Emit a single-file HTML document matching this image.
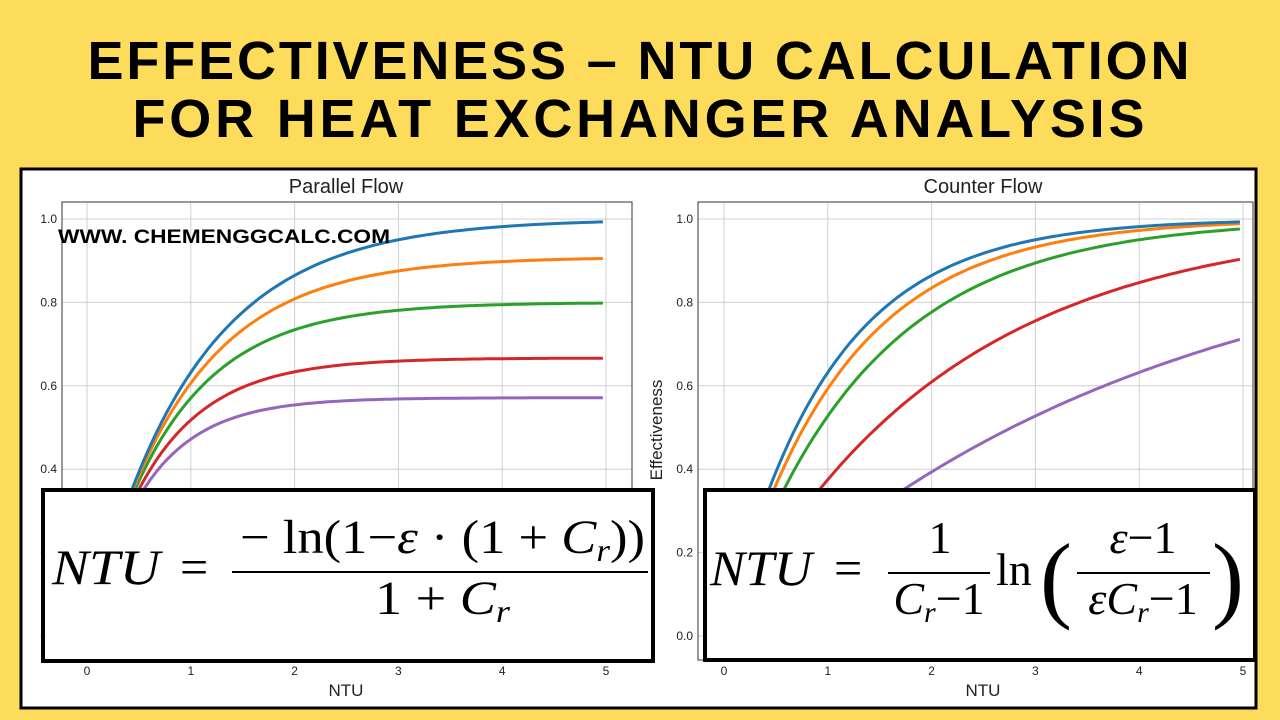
<!DOCTYPE html>
<html><head><meta charset="utf-8"><style>
html,body{margin:0;padding:0;background:#fddc5c;}
svg{display:block}
</style></head><body>
<svg width="1280" height="720" viewBox="0 0 1280 720" xmlns="http://www.w3.org/2000/svg" font-family="Liberation Sans, sans-serif">
<rect width="1280" height="720" fill="#fddc5c"/>
<text x="640" y="79" text-anchor="middle" font-size="54" font-weight="bold" letter-spacing="3" textLength="1105" lengthAdjust="spacing" fill="#000">EFFECTIVENESS – NTU CALCULATION</text>
<text x="640" y="137" text-anchor="middle" font-size="54" font-weight="bold" letter-spacing="3" textLength="1015" lengthAdjust="spacing" fill="#000">FOR HEAT EXCHANGER ANALYSIS</text>
<rect x="21" y="169" width="1235" height="539" fill="#fff" stroke="#000" stroke-width="3"/>
<g id="grids" stroke="#d0d0d0" stroke-width="1"></g>
<g id="plots"></g>
<text x="346" y="193" text-anchor="middle" font-size="20" fill="#222">Parallel Flow</text>
<text x="983" y="193" text-anchor="middle" font-size="20" fill="#222">Counter Flow</text>
<text x="58" y="243" font-size="19" font-weight="bold" textLength="332" lengthAdjust="spacingAndGlyphs" fill="#000">WWW. CHEMENGGCALC.COM</text>
<text x="346" y="696" text-anchor="middle" font-size="17" fill="#222">NTU</text>
<text x="983" y="696" text-anchor="middle" font-size="17" fill="#222">NTU</text>
<text transform="translate(662,430) rotate(-90)" text-anchor="middle" font-size="17" fill="#222">Effectiveness</text>
<g font-family="Liberation Serif, serif" fill="#000">
<rect x="43" y="490" width="610" height="171" fill="#fff" stroke="#000" stroke-width="4"/>
<text x="52" y="584" font-size="50" font-style="italic" textLength="108" lengthAdjust="spacingAndGlyphs">NTU</text>
<text x="180" y="584" font-size="50">=</text>
<line x1="232" y1="572" x2="648" y2="572" stroke="#000" stroke-width="2"/>
<text x="240" y="553" font-size="48" textLength="405" lengthAdjust="spacingAndGlyphs">− ln(1−<tspan font-style="italic">ε</tspan> · (1 + <tspan font-style="italic">C</tspan><tspan font-style="italic" font-size="32" dy="8">r</tspan><tspan dy="-8">))</tspan></text>
<text x="375" y="614" font-size="48" textLength="135" lengthAdjust="spacingAndGlyphs">1 + <tspan font-style="italic">C</tspan><tspan font-style="italic" font-size="32" dy="8">r</tspan></text>
<rect x="705" y="490" width="550" height="170" fill="#fff" stroke="#000" stroke-width="4"/>
<text x="710" y="585" font-size="50" font-style="italic" textLength="102" lengthAdjust="spacingAndGlyphs">NTU</text>
<text x="834" y="585" font-size="50">=</text>
<text x="940" y="553" font-size="46" text-anchor="middle">1</text>
<line x1="888" y1="573" x2="990" y2="573" stroke="#000" stroke-width="2"/>
<text x="939" y="614" font-size="46" text-anchor="middle"><tspan font-style="italic">C</tspan><tspan font-style="italic" font-size="30" dy="8">r</tspan><tspan dy="-8">−1</tspan></text>
<text x="996" y="585" font-size="46">ln</text>
<text x="1040" y="610" font-size="96">(</text>
<text x="1212" y="610" font-size="96">)</text>
<line x1="1077" y1="573" x2="1210" y2="573" stroke="#000" stroke-width="2"/>
<text x="1143" y="553" font-size="46" text-anchor="middle"><tspan font-style="italic">ε</tspan>−1</text>
<text x="1143" y="614" font-size="46" text-anchor="middle"><tspan font-style="italic">εC</tspan><tspan font-style="italic" font-size="30" dy="8">r</tspan><tspan dy="-8">−1</tspan></text>
</g>
<script>
(function(){
var ns="http://www.w3.org/2000/svg";
var plots=document.getElementById('plots'),grids=document.getElementById('grids');
function el(p,t,a,txt){var e=document.createElementNS(ns,t);for(var k in a)e.setAttribute(k,a[k]);if(txt!=null)e.textContent=txt;p.appendChild(e);return e;}
var cols=['#1f77b4','#ff7f0e','#2ca02c','#d62728','#9467bd'];
var axes=[{x0:87,ux:103.8,L:62,R:632,f:function(n,i){var c=[0,0.1,0.25,0.5,0.75][i];return (1-Math.exp(-n*(1+c)))/(1+c);}},
{x0:724,ux:103.8,L:698,R:1253,f:function(n,i){var b=[1,0.9,0.75,0.47,0.25][i];return 1-Math.exp(-n*b);}}];
var y0=636,uy=417;
axes.forEach(function(a){
 for(var t=0;t<=5;t++){var x=a.x0+t*a.ux;el(grids,'line',{x1:x,y1:203,x2:x,y2:660});
  el(plots,'text',{x:x,y:675,'font-size':12,'text-anchor':'middle',fill:'#222'},String(t));}
 for(var v=0;v<=5;v++){var y=y0-v*0.2*uy;el(grids,'line',{x1:a.L,y1:y,x2:a.R,y2:y});
  el(plots,'text',{x:a.L-5,y:y+4,'font-size':12,'text-anchor':'end',fill:'#222'},(v*0.2).toFixed(1));}
 el(plots,'rect',{x:a.L,y:202,width:a.R-a.L,height:458,fill:'none',stroke:'#333','stroke-width':1});
 for(var i=4;i>=0;i--){var d='';for(var n=0.02;n<=5.0001;n+=0.05){var x=a.x0+n*a.ux,y=y0-a.f(n,i)*uy;d+=(d?'L':'M')+x.toFixed(1)+','+y.toFixed(1);}
  el(plots,'path',{d:d,fill:'none',stroke:cols[i],'stroke-width':3});}
});
})();
</script>
</svg>
</body></html>
